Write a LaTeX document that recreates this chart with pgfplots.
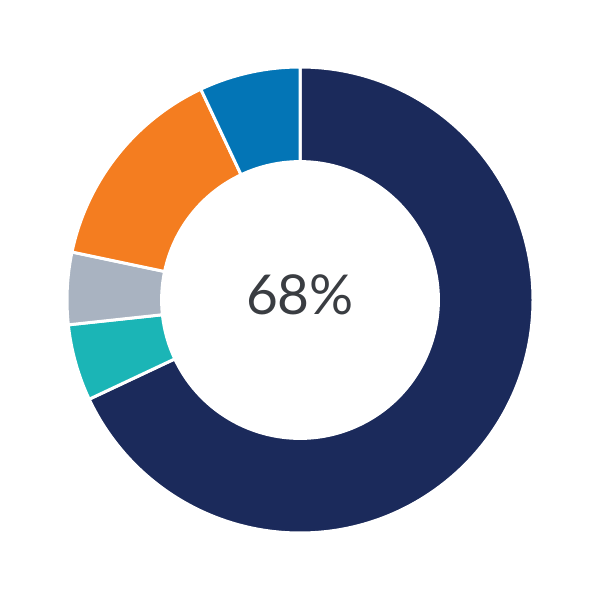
\documentclass[border=0pt]{standalone}
\usepackage{pgfplots}
\usepackage{pgfplotstable}
\pgfplotsset{compat=1.18}
\usepackage{fontspec}
\setmainfont{Lato}
\definecolor{cnavy}{HTML}{1B2A5B}
\definecolor{cteal}{HTML}{1BB5B6}
\definecolor{cgray}{HTML}{A9B3C1}
\definecolor{corange}{HTML}{F47D20}
\definecolor{cblue}{HTML}{0375B6}
\definecolor{ctext}{HTML}{3A3D42}
\pgfplotstableread{
label value col
navy 68.0 cnavy
teal 5.3 cteal
gray 5.0 cgray
orange 14.7 corange
blue 7.0 cblue
}\donutdata
\begin{document}
\begin{tikzpicture}
\useasboundingbox (0,0) rectangle (300pt,300pt);
\begin{axis}[at={(0,0)}, anchor=south west, scale only axis, width=300pt, height=300pt,
  xmin=-300, xmax=300, ymin=-300, ymax=300, hide axis, clip=false]
\pgfplotsextra{
  \gdef\cur{90}
  \foreach \i in {0,...,4}{
    \pgfplotstablegetelem{\i}{value}\of\donutdata \let\sliceval\pgfplotsretval
    \pgfplotstablegetelem{\i}{col}\of\donutdata \let\slicecol\pgfplotsretval
    \pgfmathsetmacro\nxt{\cur-3.6*\sliceval}
    \filldraw[fill=\slicecol, draw=white, line width=1.5pt, line join=miter]
      (axis cs:0,0) ++(\cur:116.5pt) arc[start angle=\cur, end angle=\nxt, radius=116.5pt]
      -- ([shift={(\nxt:69.2pt)}]axis cs:0,0)
      arc[start angle=\nxt, end angle=\cur, radius=69.2pt] -- cycle;
    \xdef\cur{\nxt}
  }
}
\node[anchor=base, font=\fontsize{27.5}{30}\selectfont, text=ctext, inner sep=0pt] at (axis cs:0,-15) {68\%};
\end{axis}
\end{tikzpicture}
\end{document}
